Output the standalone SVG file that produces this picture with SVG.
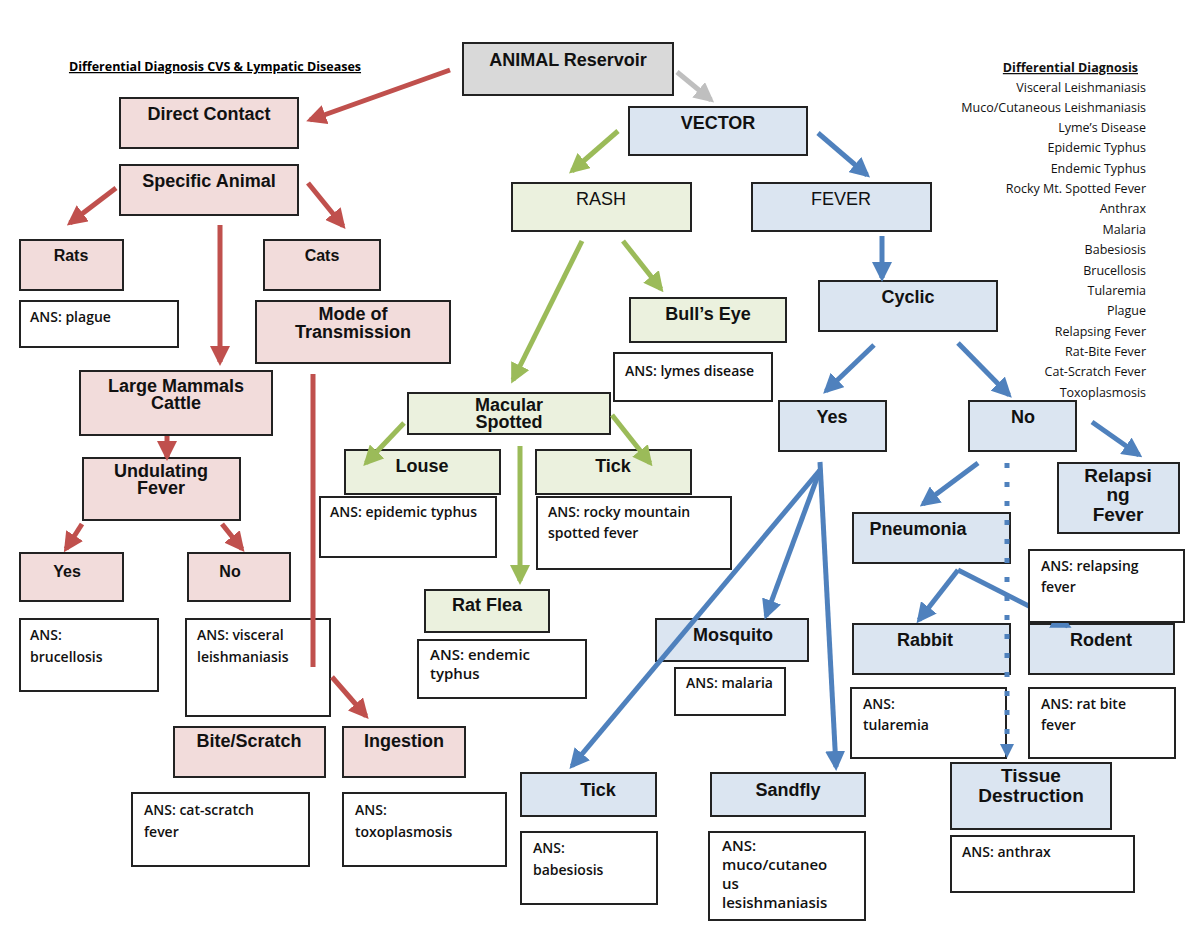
<svg xmlns="http://www.w3.org/2000/svg" width="1200" height="927" viewBox="0 0 1200 927">
<style>
rect{stroke:#222;stroke-width:2}
.p{fill:#f2dcdb}.g{fill:#ebf1de}.b{fill:#dbe5f1}.w{fill:#fff}.gr{fill:#d9d9d9}
.t{font-family:"Liberation Sans",Arial,sans-serif;font-weight:bold;font-size:18px;text-anchor:middle;fill:#111}
.a{font-family:"Open Sans","Liberation Sans",sans-serif;font-weight:600;font-size:14px;fill:#111}
.l{font-family:"Open Sans","Liberation Sans",sans-serif;font-size:12.5px;fill:#111;text-anchor:end}
.r{stroke:#c0504d;stroke-width:5;fill:none}
.gn{stroke:#9bbb59;stroke-width:5;fill:none}
.bl{stroke:#4f81bd;stroke-width:5;fill:none}
.gy{stroke:#bfbfbf;stroke-width:5;fill:none}
</style>
<defs>
<marker id="mr" viewBox="0 0 10 10" refX="8" refY="5" markerWidth="4" markerHeight="4" orient="auto"><path d="M0,0L10,5L0,10z" fill="#c0504d"/></marker>
<marker id="mg" viewBox="0 0 10 10" refX="8" refY="5" markerWidth="4" markerHeight="4" orient="auto"><path d="M0,0L10,5L0,10z" fill="#9bbb59"/></marker>
<marker id="mb" viewBox="0 0 10 10" refX="8" refY="5" markerWidth="4" markerHeight="4" orient="auto"><path d="M0,0L10,5L0,10z" fill="#4f81bd"/></marker>
<marker id="my" viewBox="0 0 10 10" refX="8" refY="5" markerWidth="4" markerHeight="4" orient="auto"><path d="M0,0L10,5L0,10z" fill="#bfbfbf"/></marker>
</defs>
<rect x="0" y="0" width="1200" height="927" style="fill:#fff;stroke:none"/>
<text x="215" y="71" style="font-family:'Open Sans','Liberation Sans',sans-serif;font-weight:bold;font-size:12.5px;text-anchor:middle;text-decoration:underline">Differential Diagnosis CVS &amp; Lympatic Diseases</text>
<g id="list">
<text x="1138" y="72" class="l" style="font-weight:bold;text-decoration:underline">Differential Diagnosis</text>
<text x="1146" y="92" class="l">Visceral Leishmaniasis</text>
<text x="1146" y="112" class="l">Muco/Cutaneous Leishmaniasis</text>
<text x="1146" y="132" class="l">Lyme’s Disease</text>
<text x="1146" y="152" class="l">Epidemic Typhus</text>
<text x="1146" y="173" class="l">Endemic Typhus</text>
<text x="1146" y="193" class="l">Rocky Mt. Spotted Fever</text>
<text x="1146" y="213" class="l">Anthrax</text>
<text x="1146" y="234" class="l">Malaria</text>
<text x="1146" y="254" class="l">Babesiosis</text>
<text x="1146" y="275" class="l">Brucellosis</text>
<text x="1146" y="295" class="l">Tularemia</text>
<text x="1146" y="315" class="l">Plague</text>
<text x="1146" y="336" class="l">Relapsing Fever</text>
<text x="1146" y="356" class="l">Rat-Bite Fever</text>
<text x="1146" y="376" class="l">Cat-Scratch Fever</text>
<text x="1146" y="397" class="l">Toxoplasmosis</text>
</g>
<g id="animal"><rect class="gr" x="463" y="43" width="210" height="52"/><text class="t" x="568" y="66">ANIMAL Reservoir</text></g>
<g id="direct"><rect class="p" x="120" y="98" width="178" height="50"/><text class="t" x="209" y="120">Direct Contact</text></g>
<g id="specific"><rect class="p" x="120" y="165" width="178" height="50"/><text class="t" x="209" y="187">Specific Animal</text></g>
<g id="rats"><rect class="p" x="20" y="240" width="103" height="50"/><text class="t" x="71" y="261" style="font-size:16px">Rats</text></g>
<g id="cats"><rect class="p" x="264" y="240" width="116" height="50"/><text class="t" x="322" y="261" style="font-size:16px">Cats</text></g>
<g id="ans-plague"><rect class="w" x="20" y="301" width="158" height="46"/><text class="a" x="30" y="322">ANS: plague</text></g>
<g id="mode"><rect class="p" x="256" y="301" width="194" height="62"/><text class="t" x="353" y="320">Mode of</text><text class="t" x="353" y="338">Transmission</text></g>
<g id="large"><rect class="p" x="80" y="371" width="192" height="64"/><text class="t" x="176" y="392">Large Mammals</text><text class="t" x="176" y="409">Cattle</text></g>
<g id="undulating"><rect class="p" x="83" y="458" width="157" height="62"/><text class="t" x="161" y="477">Undulating</text><text class="t" x="161" y="494">Fever</text></g>
<g id="yes-l"><rect class="p" x="20" y="553" width="103" height="48"/><text class="t" x="67" y="577" style="font-size:16px">Yes</text></g>
<g id="no-l"><rect class="p" x="188" y="553" width="102" height="48"/><text class="t" x="230" y="577" style="font-size:16px">No</text></g>
<g id="ans-bruc"><rect class="w" x="20" y="619" width="138" height="72"/><text class="a" x="30" y="640">ANS:</text><text class="a" x="30" y="662">brucellosis</text></g>
<g id="ans-visc"><rect class="w" x="186" y="619" width="144" height="97"/><text class="a" x="197" y="640">ANS: visceral</text><text class="a" x="197" y="662">leishmaniasis</text></g>
<g id="bite"><rect class="p" x="174" y="727" width="151" height="50"/><text class="t" x="249" y="747">Bite/Scratch</text></g>
<g id="ingestion"><rect class="p" x="343" y="727" width="122" height="50"/><text class="t" x="404" y="747">Ingestion</text></g>
<g id="ans-cat"><rect class="w" x="132" y="793" width="177" height="73"/><text class="a" x="144" y="815">ANS: cat-scratch</text><text class="a" x="144" y="837">fever</text></g>
<g id="ans-toxo"><rect class="w" x="343" y="793" width="163" height="73"/><text class="a" x="355" y="815">ANS:</text><text class="a" x="355" y="837">toxoplasmosis</text></g>
<g id="vector"><rect class="b" x="629" y="107" width="178" height="48"/><text class="t" x="718" y="129">VECTOR</text></g>
<g id="rash"><rect class="g" x="512" y="183" width="179" height="48"/><text class="t" x="601" y="205" style="font-weight:normal">RASH</text></g>
<g id="fever"><rect class="b" x="752" y="183" width="179" height="48"/><text class="t" x="841" y="205" style="font-weight:normal">FEVER</text></g>
<g id="bulls"><rect class="g" x="630" y="298" width="156" height="44"/><text class="t" x="708" y="320">Bull’s Eye</text></g>
<g id="ans-lyme"><rect class="w" x="614" y="353" width="158" height="48"/><text class="a" x="625" y="376">ANS: lymes disease</text></g>
<g id="cyclic"><rect class="b" x="819" y="281" width="178" height="50"/><text class="t" x="908" y="303">Cyclic</text></g>
<g id="macular"><rect class="g" x="408" y="393" width="202" height="41"/><text class="t" x="509" y="411">Macular</text><text class="t" x="509" y="428">Spotted</text></g>
<g id="louse"><rect class="g" x="345" y="450" width="155" height="44"/><text class="t" x="422" y="472">Louse</text></g>
<g id="tick-g"><rect class="g" x="536" y="450" width="155" height="44"/><text class="t" x="613" y="472">Tick</text></g>
<g id="ans-epi"><rect class="w" x="320" y="497" width="176" height="60"/><text class="a" x="330" y="517">ANS: epidemic typhus</text></g>
<g id="ans-rocky"><rect class="w" x="537" y="497" width="194" height="72"/><text class="a" x="548" y="517">ANS: rocky mountain</text><text class="a" x="548" y="538">spotted fever</text></g>
<g id="ratflea"><rect class="g" x="425" y="590" width="124" height="42"/><text class="t" x="487" y="611">Rat Flea</text></g>
<g id="ans-end"><rect class="w" x="418" y="640" width="168" height="58"/><text class="a" x="430" y="660" style="font-size:15px">ANS: endemic</text><text class="a" x="430" y="679" style="font-size:15px">typhus</text></g>
<g id="yes-r"><rect class="b" x="779" y="401" width="107" height="50"/><text class="t" x="832" y="423">Yes</text></g>
<g id="no-r"><rect class="b" x="969" y="401" width="107" height="50"/><text class="t" x="1023" y="423">No</text></g>
<g id="relapsing"><rect class="b" x="1058" y="463" width="121" height="70"/><text class="t" x="1118" y="482" style="font-size:19px">Relapsi</text><text class="t" x="1118" y="501" style="font-size:19px">ng</text><text class="t" x="1118" y="521" style="font-size:19px">Fever</text></g>
<g id="pneumonia"><rect class="b" x="853" y="513" width="157" height="50"/><text class="t" x="918" y="535">Pneumonia</text></g>
<g id="mosquito"><rect class="b" x="656" y="619" width="152" height="42"/><text class="t" x="733" y="641">Mosquito</text></g>
<g id="ans-mal"><rect class="w" x="675" y="668" width="110" height="47"/><text class="a" x="686" y="688">ANS: malaria</text></g>
<g id="rabbit"><rect class="b" x="853" y="624" width="157" height="50"/><text class="t" x="925" y="646">Rabbit</text></g>
<g id="rodent"><rect class="b" x="1029" y="624" width="145" height="50"/><text class="t" x="1101" y="646">Rodent</text></g>
<g id="ans-tul"><rect class="w" x="851" y="688" width="155" height="70"/><text class="a" x="863" y="709">ANS:</text><text class="a" x="863" y="730">tularemia</text></g>
<g id="ans-ratbite"><rect class="w" x="1029" y="688" width="146" height="70"/><text class="a" x="1041" y="709">ANS: rat bite</text><text class="a" x="1041" y="730">fever</text></g>
<g id="tick-b"><rect class="b" x="521" y="773" width="135" height="43"/><text class="t" x="598" y="796">Tick</text></g>
<g id="sandfly"><rect class="b" x="711" y="773" width="154" height="43"/><text class="t" x="788" y="796">Sandfly</text></g>
<g id="ans-babe"><rect class="w" x="521" y="832" width="136" height="72"/><text class="a" x="533" y="853">ANS:</text><text class="a" x="533" y="875">babesiosis</text></g>
<g id="ans-muco"><rect class="w" x="709" y="832" width="156" height="88"/><text class="a" x="722" y="851" style="font-size:15px">ANS:</text><text class="a" x="722" y="870" style="font-size:15px">muco/cutaneo</text><text class="a" x="722" y="889" style="font-size:15px">us</text><text class="a" x="722" y="908" style="font-size:15px">lesishmaniasis</text></g>
<g id="tissue"><rect class="b" x="951" y="763" width="160" height="66"/><text class="t" x="1031" y="782" style="font-size:19px">Tissue</text><text class="t" x="1031" y="802" style="font-size:19px">Destruction</text></g>
<g id="ans-anth"><rect class="w" x="951" y="836" width="183" height="56"/><text class="a" x="962" y="857">ANS: anthrax</text></g>
<g id="connectors">
<line class="r" x1="450" y1="70" x2="310" y2="120" marker-end="url(#mr)"/>
<line class="r" x1="116" y1="188" x2="70" y2="223" marker-end="url(#mr)"/>
<line class="r" x1="308" y1="183" x2="343" y2="226" marker-end="url(#mr)"/>
<line class="r" x1="220" y1="225" x2="220" y2="362" marker-end="url(#mr)"/>
<line class="r" x1="313" y1="374" x2="313" y2="667"/>
<line class="r" x1="167" y1="436" x2="167" y2="457" marker-end="url(#mr)"/>
<line class="r" x1="82" y1="524" x2="66" y2="549" marker-end="url(#mr)"/>
<line class="r" x1="222" y1="524" x2="242" y2="549" marker-end="url(#mr)"/>
<line class="r" x1="332" y1="677" x2="366" y2="716" marker-end="url(#mr)"/>
<line class="gy" x1="677" y1="72" x2="711" y2="100" marker-end="url(#my)"/>
<line class="gn" x1="618" y1="131" x2="572" y2="171" marker-end="url(#mg)"/>
<line class="bl" x1="818" y1="133" x2="867" y2="175" marker-end="url(#mb)"/>
<line class="gn" x1="582" y1="241" x2="513" y2="380" marker-end="url(#mg)"/>
<line class="gn" x1="623" y1="241" x2="661" y2="289" marker-end="url(#mg)"/>
<line class="bl" x1="882" y1="236" x2="882" y2="278" marker-end="url(#mb)"/>
<line class="bl" x1="874" y1="345" x2="826" y2="391" marker-end="url(#mb)"/>
<line class="bl" x1="958" y1="343" x2="1009" y2="395" marker-end="url(#mb)"/>
<line class="gn" x1="404" y1="423" x2="366" y2="463" marker-end="url(#mg)"/>
<line class="gn" x1="612" y1="415" x2="650" y2="463" marker-end="url(#mg)"/>
<line class="gn" x1="520" y1="446" x2="520" y2="581" marker-end="url(#mg)"/>
<line class="bl" x1="1092" y1="422" x2="1139" y2="455" marker-end="url(#mb)"/>
<line class="bl" x1="978" y1="463" x2="923" y2="504" marker-end="url(#mb)"/>
<line x1="1007" y1="463" x2="1007" y2="746" style="stroke:#4f81bd;stroke-width:5;stroke-dasharray:5 14"/>
<path d="M1000,744L1014,744L1007,758z" fill="#4f81bd"/>
<line class="bl" x1="820" y1="470" x2="572" y2="766" marker-end="url(#mb)"/>
<line class="bl" x1="820" y1="470" x2="766" y2="616" marker-end="url(#mb)"/>
<line class="bl" x1="820" y1="462" x2="836" y2="767" marker-end="url(#mb)"/>
<line class="bl" x1="958" y1="570" x2="919" y2="620" marker-end="url(#mb)"/>
<line class="bl" x1="958" y1="570" x2="1068" y2="626" marker-end="url(#mb)"/>
</g>
<g id="ans-relapsing"><rect class="w" x="1029" y="550" width="155" height="72"/><text class="a" x="1041" y="571">ANS: relapsing</text><text class="a" x="1041" y="592">fever</text></g>
</svg>
